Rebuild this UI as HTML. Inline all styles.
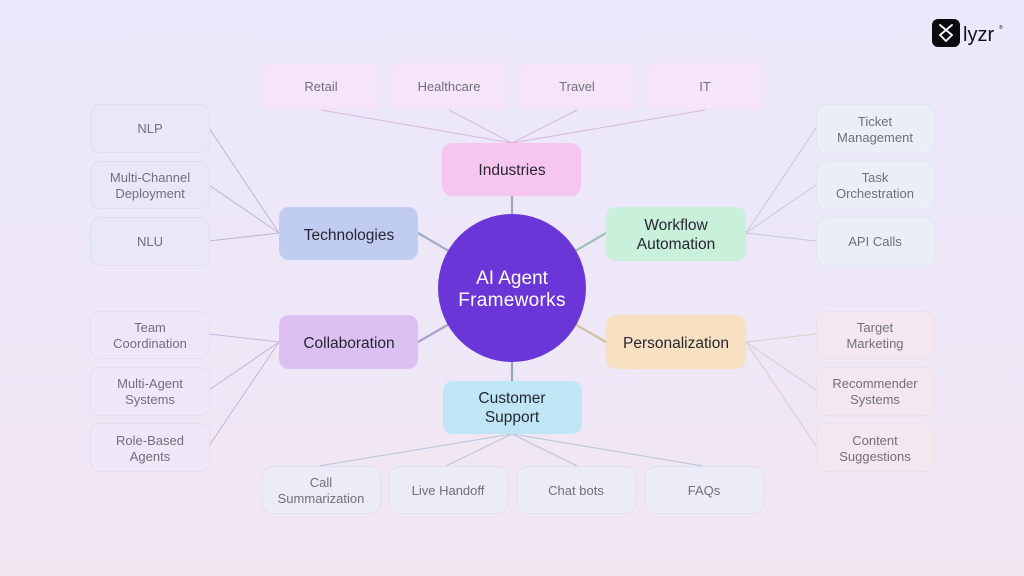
<!DOCTYPE html>
<html><head><meta charset="utf-8">
<style>
html,body{margin:0;padding:0;}
body{width:1024px;height:576px;overflow:hidden;background:linear-gradient(180deg,#ebe8fb 0%,#ede7f8 50%,#f2e6f1 100%);font-family:"Liberation Sans",sans-serif;}
svg{display:block;}
.leaf{font-size:13px;fill:#717079;text-anchor:middle;}
.cat{font-size:15.5px;fill:#272631;text-anchor:middle;}
</style></head><body>
<svg width="1024" height="576" viewBox="0 0 1024 576" xmlns="http://www.w3.org/2000/svg">
<!-- thin connectors -->
<g stroke-width="1" fill="none">
  <g stroke="#d8b8d8">
    <line x1="321" y1="110" x2="512" y2="143"/>
    <line x1="449" y1="110" x2="512" y2="143"/>
    <line x1="577" y1="110" x2="512" y2="143"/>
    <line x1="705" y1="110" x2="512" y2="143"/>
  </g>
  <g stroke="#b9b8d0">
    <line x1="209" y1="128" x2="279" y2="233"/>
    <line x1="209" y1="185" x2="279" y2="233"/>
    <line x1="209" y1="241" x2="279" y2="233"/>
  </g>
  <g stroke="#c2ccd0">
    <line x1="816" y1="128" x2="746" y2="233"/>
    <line x1="816" y1="185" x2="746" y2="233"/>
    <line x1="816" y1="241" x2="746" y2="233"/>
  </g>
  <g stroke="#c4b6d6">
    <line x1="209" y1="334" x2="279" y2="342"/>
    <line x1="209" y1="390" x2="279" y2="342"/>
    <line x1="209" y1="446" x2="279" y2="342"/>
  </g>
  <g stroke="#dccbc4">
    <line x1="816" y1="334" x2="746" y2="342"/>
    <line x1="816" y1="390" x2="746" y2="342"/>
    <line x1="816" y1="446" x2="746" y2="342"/>
  </g>
  <g stroke="#b4c6d8">
    <line x1="319" y1="466" x2="512" y2="434"/>
    <line x1="446" y1="466" x2="512" y2="434"/>
    <line x1="577" y1="466" x2="512" y2="434"/>
    <line x1="703" y1="466" x2="512" y2="434"/>
  </g>
</g>
<!-- thick connectors to hub -->
<g stroke-width="2.2" fill="none">
  <line x1="418" y1="233" x2="512" y2="288" stroke="#a2acc8"/>
  <line x1="606" y1="233" x2="512" y2="288" stroke="#9fbfb4"/>
  <line x1="418" y1="342" x2="512" y2="288" stroke="#ad9fcc"/>
  <line x1="606" y1="342" x2="512" y2="288" stroke="#d2c2a4"/>
  <line x1="512" y1="196" x2="512" y2="288" stroke="#a7a4b8"/>
  <line x1="512" y1="288" x2="512" y2="382" stroke="#8fa8b8"/>
</g>

<!-- top leaves -->
<g fill="#f6e5f8" stroke="#f2e1f5" stroke-width="1">
  <rect x="262" y="64" width="118" height="45" rx="9"/>
  <rect x="390" y="64" width="118" height="45" rx="9"/>
  <rect x="518" y="64" width="118" height="45" rx="9"/>
  <rect x="646" y="64" width="118" height="45" rx="9"/>
</g>
<text class="leaf" x="321" y="91">Retail</text>
<text class="leaf" x="449" y="91">Healthcare</text>
<text class="leaf" x="577" y="91">Travel</text>
<text class="leaf" x="705" y="91">IT</text>

<!-- left top leaves -->
<g fill="#e9e8f8" stroke="#dedef1" stroke-width="1">
  <rect x="90.5" y="104.5" width="119" height="48" rx="10"/>
  <rect x="90.5" y="161.5" width="119" height="47" rx="10"/>
  <rect x="90.5" y="217.5" width="119" height="48" rx="10"/>
</g>
<text class="leaf" x="150" y="133">NLP</text>
<text class="leaf" x="150" y="182">Multi-Channel</text>
<text class="leaf" x="150" y="198">Deployment</text>
<text class="leaf" x="150" y="246">NLU</text>

<!-- right top leaves -->
<g fill="#eaeef6" stroke="#e0e7ef" stroke-width="1">
  <rect x="816.5" y="104.5" width="118" height="48" rx="10"/>
  <rect x="816.5" y="161.5" width="118" height="47" rx="10"/>
  <rect x="816.5" y="217.5" width="118" height="48" rx="10"/>
</g>
<text class="leaf" x="875" y="126">Ticket</text>
<text class="leaf" x="875" y="142">Management</text>
<text class="leaf" x="875" y="182">Task</text>
<text class="leaf" x="875" y="198">Orchestration</text>
<text class="leaf" x="875" y="246">API Calls</text>

<!-- left bottom leaves -->
<g fill="#efe6f7" stroke="#e4ddf1" stroke-width="1">
  <rect x="90.5" y="311.5" width="119" height="47" rx="10"/>
  <rect x="90.5" y="367.5" width="119" height="48" rx="10"/>
  <rect x="90.5" y="423.5" width="119" height="48" rx="10"/>
</g>
<text class="leaf" x="150" y="332">Team</text>
<text class="leaf" x="150" y="348">Coordination</text>
<text class="leaf" x="150" y="388">Multi-Agent</text>
<text class="leaf" x="150" y="404">Systems</text>
<text class="leaf" x="150" y="445">Role-Based</text>
<text class="leaf" x="150" y="461">Agents</text>

<!-- right bottom leaves -->
<g fill="#f4e7ef" stroke="#ede0e7" stroke-width="1">
  <rect x="816.5" y="311.5" width="118" height="47" rx="10"/>
  <rect x="816.5" y="367.5" width="118" height="48" rx="10"/>
  <rect x="816.5" y="423.5" width="118" height="48" rx="10"/>
</g>
<text class="leaf" x="875" y="332">Target</text>
<text class="leaf" x="875" y="348">Marketing</text>
<text class="leaf" x="875" y="388">Recommender</text>
<text class="leaf" x="875" y="404">Systems</text>
<text class="leaf" x="875" y="445">Content</text>
<text class="leaf" x="875" y="461">Suggestions</text>

<!-- bottom leaves -->
<g fill="#ebecf7" stroke="#dde2ef" stroke-width="1">
  <rect x="262.5" y="466.5" width="118" height="47" rx="10"/>
  <rect x="389.5" y="466.5" width="118" height="47" rx="10"/>
  <rect x="517.5" y="466.5" width="118" height="47" rx="10"/>
  <rect x="645.5" y="466.5" width="118" height="47" rx="10"/>
</g>
<text class="leaf" x="321" y="487">Call</text>
<text class="leaf" x="321" y="503">Summarization</text>
<text class="leaf" x="448" y="495">Live Handoff</text>
<text class="leaf" x="576" y="495">Chat bots</text>
<text class="leaf" x="704" y="495">FAQs</text>

<!-- category boxes -->
<rect x="442" y="143" width="139" height="53" rx="10" fill="#f6c6ef"/>
<text class="cat" x="512" y="175">Industries</text>

<rect x="279" y="207" width="139" height="53" rx="10" fill="#c1ccf3"/>
<text class="cat" x="349" y="240">Technologies</text>

<rect x="606" y="207" width="140" height="54" rx="10" fill="#c8f0da"/>
<text class="cat" x="676" y="230">Workflow</text>
<text class="cat" x="676" y="249">Automation</text>

<rect x="279" y="315" width="139" height="54" rx="10" fill="#dcc0f3"/>
<text class="cat" x="349" y="348">Collaboration</text>

<rect x="606" y="315" width="140" height="54" rx="10" fill="#f8e1c2"/>
<text class="cat" x="676" y="348">Personalization</text>

<rect x="443" y="381" width="139" height="53" rx="10" fill="#bfe6f5"/>
<text class="cat" x="512" y="403">Customer</text>
<text class="cat" x="512" y="422">Support</text>

<!-- hub -->
<circle cx="512" cy="288" r="74" fill="#6b36d7"/>
<text x="512" y="284" font-size="19" fill="#ffffff" text-anchor="middle">AI Agent</text>
<text x="512" y="306" font-size="19" fill="#ffffff" text-anchor="middle" letter-spacing="0.3">Frameworks</text>

<!-- logo -->
<rect x="932" y="19" width="28" height="28" rx="6" fill="#0b0b0e"/>
<g stroke="#ffffff" stroke-width="1.8" fill="none" stroke-linecap="round">
  <path d="M940 25 L952 35"/>
  <path d="M952 25 L940 35"/>
  <path d="M940 35 L946 41 L952 35"/>
</g>
<text x="963" y="41" font-size="20" fill="#111116">lyzr</text>
<text x="999" y="29" font-size="5" fill="#111116">®</text>
</svg>
</body></html>
